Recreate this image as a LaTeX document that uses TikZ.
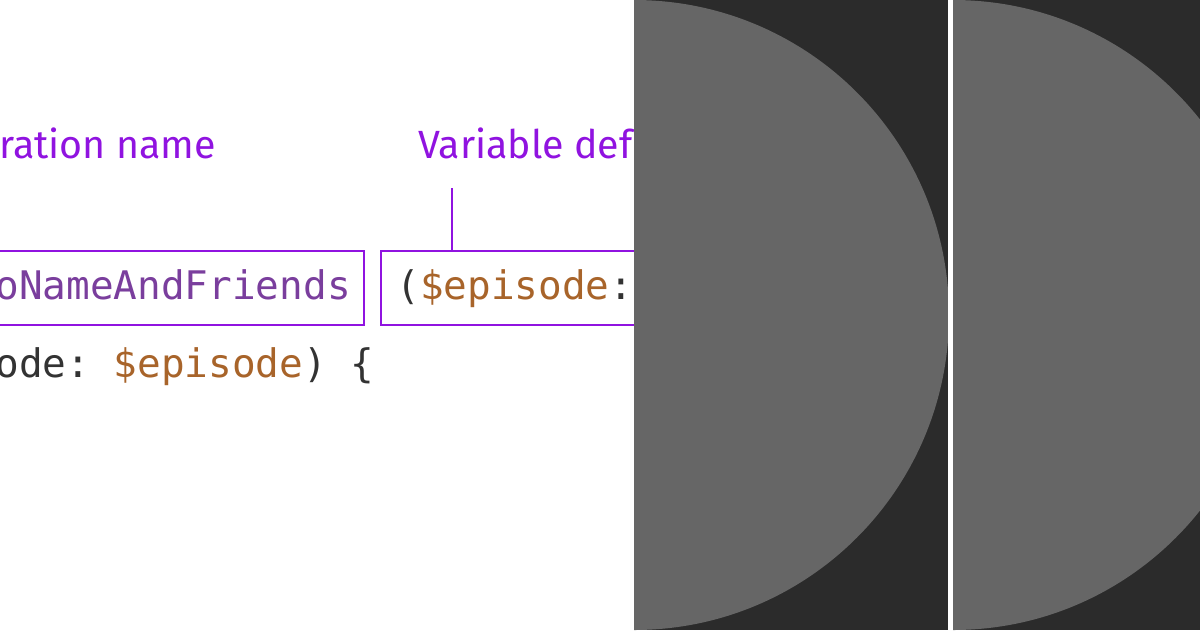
\documentclass[tikz,border=0pt]{standalone}
\usepackage{fontspec}
\setmainfont{Fira Sans}
\setmonofont{DejaVu Sans Mono}
\usetikzlibrary{positioning}
\definecolor{labelpurple}{HTML}{9013E0}
\definecolor{namepurple}{HTML}{7A3E9D}
\definecolor{varbrown}{HTML}{A8642A}
\definecolor{codegray}{HTML}{333333}
\definecolor{panelgray}{HTML}{2B2B2B}
\definecolor{discgray}{HTML}{666666}
\begin{document}
\begin{tikzpicture}[x=0.02cm,y=-0.02cm,font=\ttfamily\fontsize{22.4}{26}\selectfont]
\tikzset{codetext/.style = {anchor=base west, inner sep=0pt, text=codegray},
  tag/.style = {anchor=base west, inner sep=0pt, text=labelpurple,
    font=\rmfamily\fontsize{22.4}{27}\selectfont},
  markbox/.style = {draw=labelpurple, line width=1.1pt}}
  \useasboundingbox (0,0) rectangle (1200,630);
  \clip (0,0) rectangle (1200,630);

  % labels above the code
  \node[tag] (opname) at (-1,158) {ration name};
  \node[tag] (vardef) at (418,158) {Variable def};

  % the code lines
  \node[codetext, text=namepurple] (name) at (-5,299) {oNameAndFriends};
  \node[codetext] (args) at (396,299) {(\textcolor{varbrown}{\$episode}:};
  \node[codetext] (call) at (-5,377) {ode: \textcolor{varbrown}{\$episode}) \{};

  % boxes round name and variables
  \draw[markbox] (-10,251) rectangle (364,325);
  \draw[markbox] (381,251) rectangle (660,325);
  \coordinate (argtop) at (452,251);
  \coordinate (tickend) at (452,188);
  \draw[markbox] (tickend) -- (argtop);

  % dark panel with the two half discs
  \fill[panelgray] (634,0) rectangle (1200,630);
  \begin{scope}
    \clip (634,0) rectangle (948,630);
    \fill[discgray] (634,315) circle (315);
  \end{scope}
  \fill[white] (948,0) rectangle (953,630);
  \begin{scope}
    \clip (953,0) rectangle (1200,630);
    \fill[discgray] (953,315) circle (315);
  \end{scope}
\end{tikzpicture}
\end{document}
